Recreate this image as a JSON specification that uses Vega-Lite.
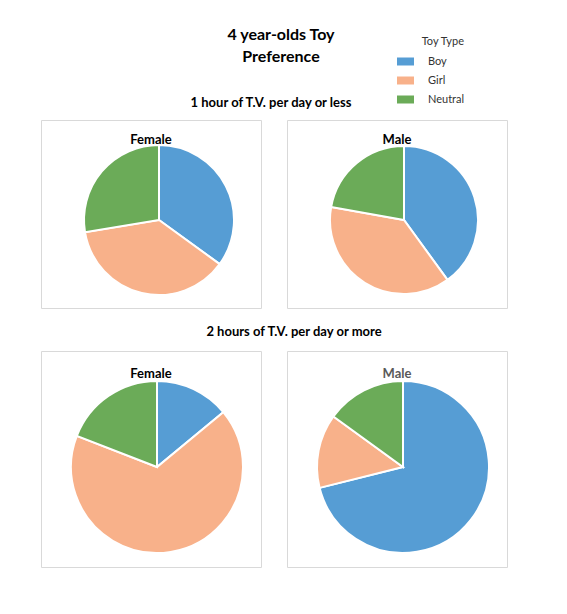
{
  "$schema": "https://vega.github.io/schema/vega-lite/v6.json",
  "description": "Toy type preference of 4 year-olds by TV time and gender, four pie charts.",
  "padding": {"left": 40, "top": 27, "right": 5, "bottom": 5},
  "background": "white",
  "title": {
    "text": ["4 year-olds Toy", "Preference"],
    "font": "Lato",
    "fontSize": 16,
    "fontWeight": "bold",
    "lineHeight": 22,
    "color": "black",
    "anchor": "middle",
    "dx": 7,
    "offset": -29
  },
  "datasets": {
    "toys": [
      {"tv": "less", "gender": "Female", "type": "Boy", "pct": 35},
      {"tv": "less", "gender": "Female", "type": "Girl", "pct": 37.4},
      {"tv": "less", "gender": "Female", "type": "Neutral", "pct": 27.6},
      {"tv": "less", "gender": "Male", "type": "Boy", "pct": 40},
      {"tv": "less", "gender": "Male", "type": "Girl", "pct": 37.8},
      {"tv": "less", "gender": "Male", "type": "Neutral", "pct": 22.2},
      {"tv": "more", "gender": "Female", "type": "Boy", "pct": 14},
      {"tv": "more", "gender": "Female", "type": "Girl", "pct": 66.9},
      {"tv": "more", "gender": "Female", "type": "Neutral", "pct": 19.1},
      {"tv": "more", "gender": "Male", "type": "Boy", "pct": 71.1},
      {"tv": "more", "gender": "Male", "type": "Girl", "pct": 13.9},
      {"tv": "more", "gender": "Male", "type": "Neutral", "pct": 15}
    ]
  },
  "data": {"name": "toys"},
  "config": {
    "font": "Lato",
    "view": {"stroke": "#d9d9d9", "strokeWidth": 1},
    "title": {"font": "Lato", "fontWeight": "bold", "color": "black"},
    "arc": {"stroke": "white", "strokeWidth": 2}
  },
  "spacing": 16,
  "vconcat": [
    {
      "title": {"text": "1 hour of T.V. per day or less", "fontSize": 13, "anchor": "middle", "dx": -3, "offset": 10},
      "spacing": 24,
      "hconcat": [
        {
          "title": {"text": "Female", "fontSize": 13, "offset": -27},
          "width": 220,
          "height": 188,
          "view": {"stroke": "#d9d9d9", "strokeWidth": 1},
          "transform": [{"filter": "datum.tv == 'less' && datum.gender == 'Female'"}],
          "mark": {"type": "arc", "radius": 75, "xOffset": 8, "yOffset": 6},
          "encoding": {
            "theta": {"field": "pct", "type": "quantitative"},
            "color": {
              "field": "type",
              "type": "nominal",
              "scale": {
                "domain": ["Boy", "Girl", "Neutral"],
                "range": ["#569DD4", "#F8B18A", "#6BAB58"]
              },
              "legend": {
                "title": "Toy Type",
                "orient": "none",
                "legendX": 355,
                "legendY": -84,
                "titleFont": "Lato",
                "titleFontWeight": "normal",
                "titleFontSize": 11,
                "titleColor": "#333333",
                "titleAnchor": "end",
                "titlePadding": 5,
                "labelFont": "Lato",
                "labelFontSize": 11,
                "labelColor": "#333333",
                "labelOffset": 13,
                "symbolType": "M-1.118,-0.588H1.118V0.588H-1.118Z",
                "symbolSize": 289,
                "symbolStrokeWidth": 0,
                "symbolOpacity": 1,
                "rowPadding": -1,
                "encode": {
                  "symbols": {
                    "fill": {
                      "condition": [
                        {"test": "datum.value === 'Boy'", "value": "#4472C4"},
                        {"test": "datum.value === 'Girl'", "value": "#F8B18A"}
                      ],
                      "value": "#6AAB55"
                    }
                  }
                }
              }
            }
          }
        },
        {
          "title": {"text": "Male", "fontSize": 13, "offset": -27},
          "width": 220,
          "height": 188,
          "view": {"stroke": "#d9d9d9", "strokeWidth": 1},
          "transform": [{"filter": "datum.tv == 'less' && datum.gender == 'Male'"}],
          "mark": {"type": "arc", "radius": 74, "xOffset": 7, "yOffset": 6},
          "encoding": {
            "theta": {"field": "pct", "type": "quantitative"},
            "color": {"field": "type", "type": "nominal"}
          }
        }
      ]
    },
    {
      "title": {"text": "2 hours of T.V. per day or more", "fontSize": 13, "anchor": "middle", "dx": 20, "offset": 12},
      "spacing": 24,
      "hconcat": [
        {
          "title": {"text": "Female", "fontSize": 13, "offset": -30},
          "width": 220,
          "height": 216,
          "view": {"stroke": "#d9d9d9", "strokeWidth": 1},
          "transform": [{"filter": "datum.tv == 'more' && datum.gender == 'Female'"}],
          "mark": {"type": "arc", "radius": 86, "xOffset": 6, "yOffset": 8},
          "encoding": {
            "theta": {"field": "pct", "type": "quantitative"},
            "color": {"field": "type", "type": "nominal"}
          }
        },
        {
          "title": {"text": "Male", "fontSize": 13, "offset": -30, "color": "#595959"},
          "width": 220,
          "height": 216,
          "view": {"stroke": "#d9d9d9", "strokeWidth": 1},
          "transform": [{"filter": "datum.tv == 'more' && datum.gender == 'Male'"}],
          "mark": {"type": "arc", "radius": 86, "xOffset": 6, "yOffset": 8},
          "encoding": {
            "theta": {"field": "pct", "type": "quantitative"},
            "color": {"field": "type", "type": "nominal"}
          }
        }
      ]
    }
  ]
}
